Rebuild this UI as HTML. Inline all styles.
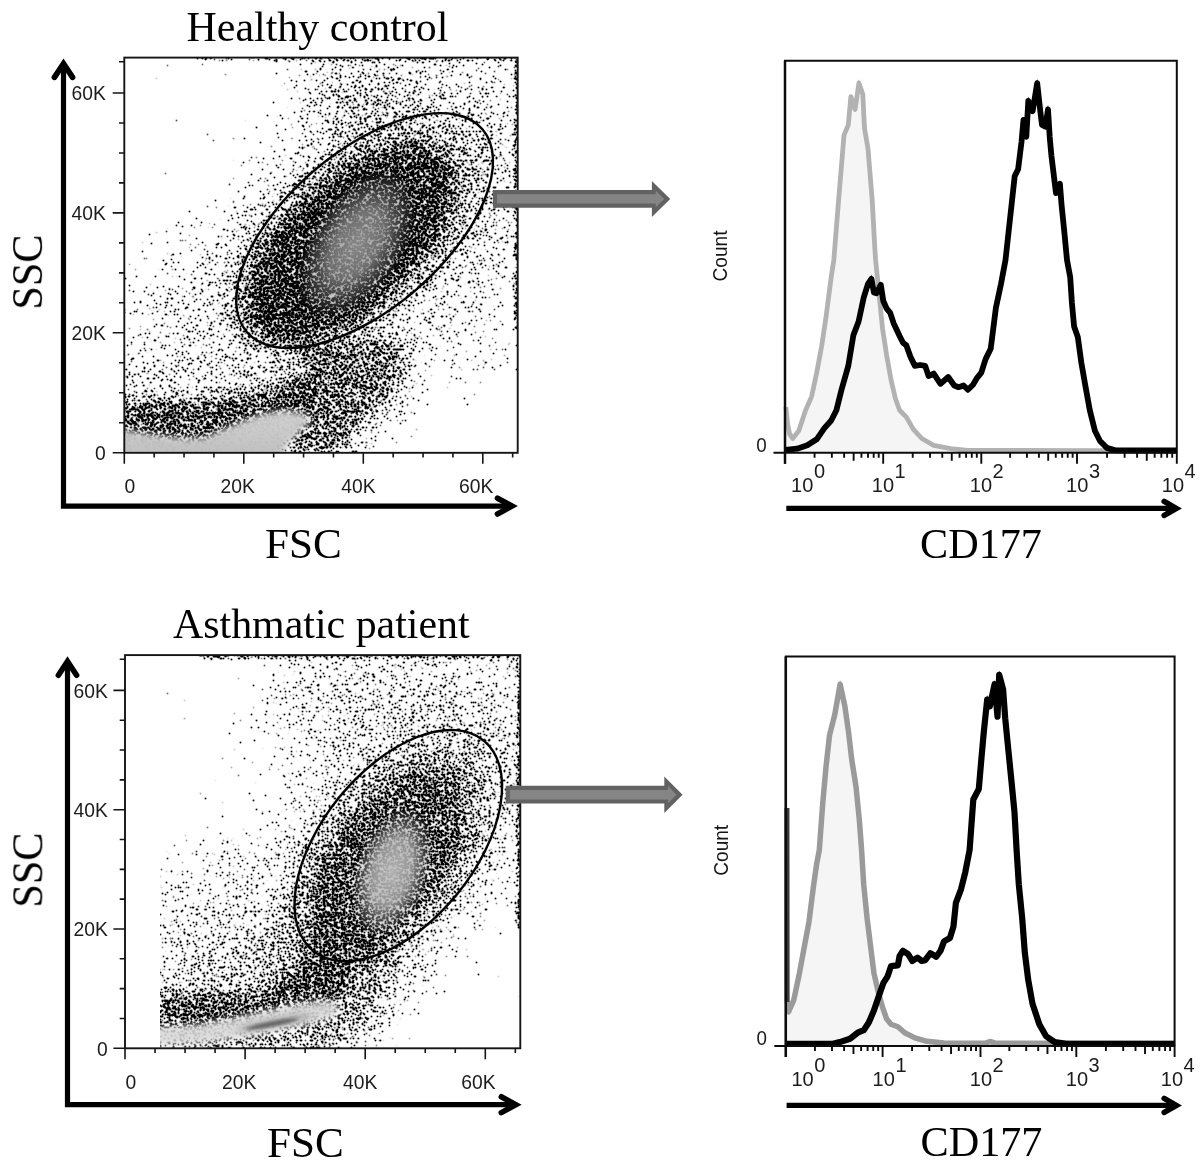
<!DOCTYPE html>
<html lang="en"><head><meta charset="utf-8"><title>CD177 flow cytometry</title>
<style>html,body{margin:0;padding:0;background:#fff}svg{display:block}text{white-space:pre}</style></head>
<body><svg width="1200" height="1171" viewBox="0 0 1200 1171">
<rect width="1200" height="1171" fill="#fff"/>
<defs>
<filter id="b1" x="-20%" y="-20%" width="140%" height="140%"><feGaussianBlur stdDeviation="1"/></filter>
<filter id="b2" x="-20%" y="-20%" width="140%" height="140%"><feGaussianBlur stdDeviation="1.8"/></filter>
<filter id="b3" x="-20%" y="-20%" width="140%" height="140%"><feGaussianBlur stdDeviation="3"/></filter>
<filter id="b6" x="-30%" y="-30%" width="160%" height="160%"><feGaussianBlur stdDeviation="6"/></filter>
<filter id="b10" x="-40%" y="-40%" width="180%" height="180%"><feGaussianBlur stdDeviation="10"/></filter>
<filter id="b18" x="-50%" y="-50%" width="200%" height="200%"><feGaussianBlur stdDeviation="18"/></filter>
<filter id="b30" x="-60%" y="-60%" width="220%" height="220%"><feGaussianBlur stdDeviation="30"/></filter>
</defs>
<defs><filter id="st1" filterUnits="userSpaceOnUse" x="124.3" y="57.6" width="393.4" height="395.2" color-interpolation-filters="sRGB"><feComponentTransfer in="SourceGraphic" result="d"><feFuncR type="table" tableValues="0.000 0.432 0.454 0.468 0.478 0.485 0.492 0.499 0.504 0.507 0.511 0.514 0.520 0.525 0.529 0.532 0.535 0.539 0.544 0.549 0.552 0.555 0.558 0.561 0.564 0.567 0.569 0.572 0.575 0.579 0.583 0.587 0.591 0.594 0.597 0.601 0.605 0.609 0.614 0.620 0.625 0.628 0.632 0.635 0.639 0.642 0.645 0.648 0.653 0.659 0.665 0.669 0.673 0.680 0.689 0.696 0.702 0.707 0.712 0.722 0.735 0.745 0.762 0.784 0.900"/><feFuncG type="table" tableValues="0.000 0.432 0.454 0.468 0.478 0.485 0.492 0.499 0.504 0.507 0.511 0.514 0.520 0.525 0.529 0.532 0.535 0.539 0.544 0.549 0.552 0.555 0.558 0.561 0.564 0.567 0.569 0.572 0.575 0.579 0.583 0.587 0.591 0.594 0.597 0.601 0.605 0.609 0.614 0.620 0.625 0.628 0.632 0.635 0.639 0.642 0.645 0.648 0.653 0.659 0.665 0.669 0.673 0.680 0.689 0.696 0.702 0.707 0.712 0.722 0.735 0.745 0.762 0.784 0.900"/><feFuncB type="table" tableValues="0.000 0.432 0.454 0.468 0.478 0.485 0.492 0.499 0.504 0.507 0.511 0.514 0.520 0.525 0.529 0.532 0.535 0.539 0.544 0.549 0.552 0.555 0.558 0.561 0.564 0.567 0.569 0.572 0.575 0.579 0.583 0.587 0.591 0.594 0.597 0.601 0.605 0.609 0.614 0.620 0.625 0.628 0.632 0.635 0.639 0.642 0.645 0.648 0.653 0.659 0.665 0.669 0.673 0.680 0.689 0.696 0.702 0.707 0.712 0.722 0.735 0.745 0.762 0.784 0.900"/></feComponentTransfer><feTurbulence type="fractalNoise" baseFrequency="0.55" numOctaves="2" seed="7" result="n"/>
<feColorMatrix in="n" type="matrix" values="1 0 0 0 0  1 0 0 0 0  1 0 0 0 0  0 0 0 0 1" result="ng"/>
<feComposite in="d" in2="ng" operator="arithmetic" k1="0" k2="1" k3="1" k4="-0.5" result="s"/>
<feComponentTransfer in="s" result="t"><feFuncR type="linear" slope="30.0" intercept="-14.5"/><feFuncG type="linear" slope="30.0" intercept="-14.5"/><feFuncB type="linear" slope="30.0" intercept="-14.5"/></feComponentTransfer><feColorMatrix in="t" type="matrix" values="-1 0 0 0 1  0 -1 0 0 1  0 0 -1 0 1  0 0 0 0 1" result="ti"/>
<feConvolveMatrix in="ti" order="3" kernelMatrix="0.08 0.36 0.08 0.36 1 0.36 0.08 0.36 0.08" divisor="1" bias="0" edgeMode="none" preserveAlpha="true" result="tc"/>
<feColorMatrix in="tc" type="matrix" values="-1 0 0 0 1  0 -1 0 0 1  0 0 -1 0 1  0 0 0 0 1"/></filter><clipPath id="cp1"><rect x="124.3" y="57.6" width="393.4" height="395.2"/></clipPath><radialGradient id="cg1"><stop offset="0" stop-color="#a2a2a2" stop-opacity=".84"/><stop offset=".45" stop-color="#969696" stop-opacity=".74"/><stop offset=".75" stop-color="#808080" stop-opacity=".4"/><stop offset="1" stop-color="#777" stop-opacity="0"/></radialGradient><linearGradient id="dg1" x1="0" x2="0" y1="0" y2="1"><stop offset="0" stop-color="#d2d2d2"/><stop offset="1" stop-color="#bdbdbd"/></linearGradient></defs>
<g clip-path="url(#cp1)"><g filter="url(#st1)"><rect x="119.3" y="52.6" width="403.4" height="405.2" fill="#fff"/>
<rect x="124.3" y="57.6" width="393.4" height="395.2" fill="#000" fill-opacity="0.004"/>
<g filter="url(#b30)"><ellipse cx="372" cy="222" rx="185" ry="108" transform="rotate(-42 372 222)" fill="#000" fill-opacity="0.075" /><path d="M300 58L518 58L518 250L430 120L330 150Z" fill="#000" fill-opacity="0.05" /><path d="M124 300L230 230L260 330L300 380L124 420Z" fill="#000" fill-opacity="0.09" /><path d="M410 290L500 190L518 320L450 380Z" fill="#000" fill-opacity="0.07" /></g>
<g filter="url(#b18)"><ellipse cx="366" cy="230" rx="165" ry="88" transform="rotate(-41 366 230)" fill="#000" fill-opacity="0.12" /><ellipse cx="360" cy="100" rx="55" ry="45" transform="rotate(0 360 100)" fill="#000" fill-opacity="0.14" /><path d="M124 375L250 365L330 345L420 350L400 410L345 452L124 452Z" fill="#000" fill-opacity="0.12" /></g>
<g filter="url(#b10)"><ellipse cx="352" cy="241" rx="138" ry="75" transform="rotate(-41 352 241)" fill="#000" fill-opacity="0.32" /><path d="M284 340L405 328L416 364L394 402L356 432L340 456L300 456L294 400Z" fill="#000" fill-opacity="0.12" /></g>
<g filter="url(#b6)"><ellipse cx="349" cy="245" rx="126" ry="63" transform="rotate(-42 349 245)" fill="#000" fill-opacity="0.56" /><path d="M118 399L180 403L250 395L300 378L320 374L312 410L290 425L250 428L200 444L118 440Z" fill="#000" fill-opacity="0.58" /><path d="M296 352L396 338L403 362L390 393L356 425L338 456L288 456L292 425L312 410L318 376Z" fill="#000" fill-opacity="0.38" /></g>
<g filter="url(#b1)"><path d="M190 56L270 56L270 60.3L190 60.3Z" fill="#000" fill-opacity="0.25" /><path d="M270 56L520 56L520 60.4L270 60.4Z" fill="#000" fill-opacity="0.4" /><path d="M515 56L520 56L520 330L515 330Z" fill="#000" fill-opacity="0.55" /></g>
</g>
<ellipse cx="357" cy="244" rx="84" ry="47" transform="rotate(-58 357 244)" fill="url(#cg1)"/>
<g filter="url(#b3)" opacity=".97"><path d="M118 428L150 434L185 438L205 437L225 428L260 414L286 410L305 414L312 420L300 432L288 444L280 458L118 458Z" fill="url(#dg1)"/></g>
</g>
<ellipse cx="364.6" cy="230.6" rx="155.4" ry="78.4" transform="rotate(-40.7 364.6 230.6)" fill="none" stroke="#000" stroke-width="2.4"/>
<defs><filter id="st2" filterUnits="userSpaceOnUse" x="125" y="655.1" width="395.3" height="393.2" color-interpolation-filters="sRGB"><feComponentTransfer in="SourceGraphic" result="d"><feFuncR type="table" tableValues="0.000 0.432 0.454 0.468 0.478 0.485 0.492 0.499 0.504 0.507 0.511 0.514 0.520 0.525 0.529 0.532 0.535 0.539 0.544 0.549 0.552 0.555 0.558 0.561 0.564 0.567 0.569 0.572 0.575 0.579 0.583 0.587 0.591 0.594 0.597 0.601 0.605 0.609 0.614 0.620 0.625 0.628 0.632 0.635 0.639 0.642 0.645 0.648 0.653 0.659 0.665 0.669 0.673 0.680 0.689 0.696 0.702 0.707 0.712 0.722 0.735 0.745 0.762 0.784 0.900"/><feFuncG type="table" tableValues="0.000 0.432 0.454 0.468 0.478 0.485 0.492 0.499 0.504 0.507 0.511 0.514 0.520 0.525 0.529 0.532 0.535 0.539 0.544 0.549 0.552 0.555 0.558 0.561 0.564 0.567 0.569 0.572 0.575 0.579 0.583 0.587 0.591 0.594 0.597 0.601 0.605 0.609 0.614 0.620 0.625 0.628 0.632 0.635 0.639 0.642 0.645 0.648 0.653 0.659 0.665 0.669 0.673 0.680 0.689 0.696 0.702 0.707 0.712 0.722 0.735 0.745 0.762 0.784 0.900"/><feFuncB type="table" tableValues="0.000 0.432 0.454 0.468 0.478 0.485 0.492 0.499 0.504 0.507 0.511 0.514 0.520 0.525 0.529 0.532 0.535 0.539 0.544 0.549 0.552 0.555 0.558 0.561 0.564 0.567 0.569 0.572 0.575 0.579 0.583 0.587 0.591 0.594 0.597 0.601 0.605 0.609 0.614 0.620 0.625 0.628 0.632 0.635 0.639 0.642 0.645 0.648 0.653 0.659 0.665 0.669 0.673 0.680 0.689 0.696 0.702 0.707 0.712 0.722 0.735 0.745 0.762 0.784 0.900"/></feComponentTransfer><feTurbulence type="fractalNoise" baseFrequency="0.55" numOctaves="2" seed="23" result="n"/>
<feColorMatrix in="n" type="matrix" values="1 0 0 0 0  1 0 0 0 0  1 0 0 0 0  0 0 0 0 1" result="ng"/>
<feComposite in="d" in2="ng" operator="arithmetic" k1="0" k2="1" k3="1" k4="-0.5" result="s"/>
<feComponentTransfer in="s" result="t"><feFuncR type="linear" slope="30.0" intercept="-14.5"/><feFuncG type="linear" slope="30.0" intercept="-14.5"/><feFuncB type="linear" slope="30.0" intercept="-14.5"/></feComponentTransfer><feColorMatrix in="t" type="matrix" values="-1 0 0 0 1  0 -1 0 0 1  0 0 -1 0 1  0 0 0 0 1" result="ti"/>
<feConvolveMatrix in="ti" order="3" kernelMatrix="0.08 0.36 0.08 0.36 1 0.36 0.08 0.36 0.08" divisor="1" bias="0" edgeMode="none" preserveAlpha="true" result="tc"/>
<feColorMatrix in="tc" type="matrix" values="-1 0 0 0 1  0 -1 0 0 1  0 0 -1 0 1  0 0 0 0 1"/></filter><clipPath id="cp2"><path d="M160 661.1H520.3V1048.3H160ZM125 655.1H520.3V661.1H125Z"/></clipPath><radialGradient id="cg2"><stop offset="0" stop-color="#c0c0c0" stop-opacity=".92"/><stop offset=".5" stop-color="#b4b4b4" stop-opacity=".82"/><stop offset=".8" stop-color="#a0a0a0" stop-opacity=".35"/><stop offset="1" stop-color="#999" stop-opacity="0"/></radialGradient></defs>
<g clip-path="url(#cp2)"><g filter="url(#st2)"><rect x="120" y="650.1" width="405.3" height="403.2" fill="#fff"/>
<rect x="125" y="655.1" width="395.3" height="393.2" fill="#000" fill-opacity="0.004"/>
<g filter="url(#b30)"><ellipse cx="400" cy="845" rx="165" ry="100" transform="rotate(-51 400 845)" fill="#000" fill-opacity="0.06" /><path d="M150 885L300 850L310 1000L150 1000Z" fill="#000" fill-opacity="0.085" /><path d="M280 650L525 650L525 760L280 780Z" fill="#000" fill-opacity="0.07" /></g>
<g filter="url(#b18)"><ellipse cx="398" cy="846" rx="146" ry="84" transform="rotate(-51 398 846)" fill="#000" fill-opacity="0.1" /><ellipse cx="360" cy="700" rx="60" ry="45" transform="rotate(0 360 700)" fill="#000" fill-opacity="0.04" /><path d="M230 950L330 900L420 960L370 1040L150 1040L150 985Z" fill="#000" fill-opacity="0.13" /></g>
<g filter="url(#b10)"><ellipse cx="390" cy="858" rx="122" ry="68" transform="rotate(-51 390 858)" fill="#000" fill-opacity="0.28" /><path d="M300 935L400 950L378 1000L348 1040L300 1030L290 980Z" fill="#000" fill-opacity="0.24" /></g>
<g filter="url(#b6)"><ellipse cx="386" cy="864" rx="102" ry="55" transform="rotate(-52 386 864)" fill="#000" fill-opacity="0.35" /><path d="M150 995L260 993L300 965L335 955L350 975L335 1000L300 1003L250 1020L200 1030L150 1028Z" fill="#000" fill-opacity="0.5" /><path d="M150 1038L340 1030L345 1040L300 1049L150 1050Z" fill="#000" fill-opacity="0.25" /></g>
<g filter="url(#b1)"><path d="M200 653L523 653L523 658.3L200 658.3Z" fill="#000" fill-opacity="0.4" /><path d="M517.3 653L523 653L523 930L517.3 930Z" fill="#000" fill-opacity="0.55" /></g>
</g>
<ellipse cx="392" cy="872" rx="68" ry="38" transform="rotate(-72 392 872)" fill="url(#cg2)"/>
<g filter="url(#b3)" opacity=".9"><path d="M150 1028L200 1024L250 1014L300 1003L330 1000L340 1006L335 1017L300 1027L250 1037L200 1044L150 1046Z" fill="#d8d8d8"/></g>
<g filter="url(#b3)"><ellipse cx="274" cy="1023" rx="40" ry="4.5" transform="rotate(-11 272 1023)" fill="#a2a2a2" opacity=".8"/></g>
<ellipse cx="272" cy="1024" rx="27" ry="2.6" transform="rotate(-11 272 1023.5)" fill="#555" filter="url(#b2)" opacity=".85"/>
</g>
<ellipse cx="398.3" cy="845.6" rx="135.4" ry="76.3" transform="rotate(-51 398.3 845.6)" fill="none" stroke="#000" stroke-width="2.4"/>
<rect x="124.3" y="57.6" width="393.4" height="395.2" fill="none" stroke="#151515" stroke-width="1.9"/>
<path d="M112.7 452.7H124.3M119 422.72H124.3M119 392.75H124.3M119 362.77H124.3M112.7 332.8H124.3M119 302.82H124.3M119 272.85H124.3M119 242.87H124.3M112.7 212.9H124.3M119 182.92H124.3M119 152.95H124.3M119 122.97H124.3M112.7 93H124.3M119 61.8H124.3M124.3 452.8V463.8M154.18 452.8V457.4M184.05 452.8V457.4M213.93 452.8V457.4M243.8 452.8V463.8M273.68 452.8V457.4M303.55 452.8V457.4M333.43 452.8V457.4M363.3 452.8V463.8M393.18 452.8V457.4M423.05 452.8V457.4M452.93 452.8V457.4M482.8 452.8V463.8M512.67 452.8V457.4" stroke="#151515" stroke-width="1.6" fill="none"/>
<text transform="translate(105.8 459.7) scale(0.965 1)" text-anchor="end" font-family="Liberation Sans, sans-serif" font-size="20" fill="#1c1c1c">0</text>
<text transform="translate(105.8 339.8) scale(0.965 1)" text-anchor="end" font-family="Liberation Sans, sans-serif" font-size="20" fill="#1c1c1c">20K</text>
<text transform="translate(105.8 219.9) scale(0.965 1)" text-anchor="end" font-family="Liberation Sans, sans-serif" font-size="20" fill="#1c1c1c">40K</text>
<text transform="translate(105.8 100) scale(0.965 1)" text-anchor="end" font-family="Liberation Sans, sans-serif" font-size="20" fill="#1c1c1c">60K</text>
<text transform="translate(124.6 492.7) scale(0.965 1)" text-anchor="start" font-family="Liberation Sans, sans-serif" font-size="20" fill="#1c1c1c">0</text>
<text transform="translate(237.6 492.7) scale(0.965 1)" text-anchor="middle" font-family="Liberation Sans, sans-serif" font-size="20" fill="#1c1c1c">20K</text>
<text transform="translate(358.5 492.7) scale(0.965 1)" text-anchor="middle" font-family="Liberation Sans, sans-serif" font-size="20" fill="#1c1c1c">40K</text>
<text transform="translate(476.1 492.7) scale(0.965 1)" text-anchor="middle" font-family="Liberation Sans, sans-serif" font-size="20" fill="#1c1c1c">60K</text>
<path d="M63.5 64V506.1H511.8" fill="none" stroke="#000" stroke-width="5.2" stroke-linejoin="miter"/>
<path d="M54.4 77.4L63.5 63.6L72.6 77.4" fill="none" stroke="#000" stroke-width="5.6" stroke-linecap="round" stroke-linejoin="miter"/>
<path d="M497.5 498.2L512 506.1L497.5 514" fill="none" stroke="#000" stroke-width="5.6" stroke-linecap="round" stroke-linejoin="miter"/>
<text transform="translate(317.5 40.7) scale(1.01 1)" text-anchor="middle" font-family="Liberation Serif, serif" font-size="41.5" fill="#000">Healthy control</text>
<text transform="translate(42 272) rotate(-90) scale(1.03 1.1)" text-anchor="middle" font-family="Liberation Serif, serif" font-size="41" fill="#000">SSC</text>
<text transform="translate(303.3 557.5) scale(1.04 1)" text-anchor="middle" font-family="Liberation Serif, serif" font-size="41.5" fill="#000">FSC</text>
<rect x="125" y="655.1" width="395.3" height="393.2" fill="none" stroke="#151515" stroke-width="1.9"/>
<path d="M113.4 1048.3H125M119.7 1018.47H125M119.7 988.65H125M119.7 958.82H125M113.4 929H125M119.7 899.17H125M119.7 869.35H125M119.7 839.52H125M113.4 809.7H125M119.7 779.88H125M119.7 750.05H125M119.7 720.22H125M113.4 690.4H125M119.7 659.3H125M125 1048.3V1059.3M155.03 1048.3V1052.9M185.05 1048.3V1052.9M215.07 1048.3V1052.9M245.1 1048.3V1059.3M275.12 1048.3V1052.9M305.15 1048.3V1052.9M335.17 1048.3V1052.9M365.2 1048.3V1059.3M395.22 1048.3V1052.9M425.25 1048.3V1052.9M455.27 1048.3V1052.9M485.3 1048.3V1059.3M515.33 1048.3V1052.9" stroke="#151515" stroke-width="1.6" fill="none"/>
<text transform="translate(107.8 1055.7) scale(0.965 1)" text-anchor="end" font-family="Liberation Sans, sans-serif" font-size="20" fill="#1c1c1c">0</text>
<text transform="translate(107.8 936.4) scale(0.965 1)" text-anchor="end" font-family="Liberation Sans, sans-serif" font-size="20" fill="#1c1c1c">20K</text>
<text transform="translate(107.8 817.1) scale(0.965 1)" text-anchor="end" font-family="Liberation Sans, sans-serif" font-size="20" fill="#1c1c1c">40K</text>
<text transform="translate(107.8 697.8) scale(0.965 1)" text-anchor="end" font-family="Liberation Sans, sans-serif" font-size="20" fill="#1c1c1c">60K</text>
<text transform="translate(125.4 1088.7) scale(0.965 1)" text-anchor="start" font-family="Liberation Sans, sans-serif" font-size="20" fill="#1c1c1c">0</text>
<text transform="translate(239.2 1088.7) scale(0.965 1)" text-anchor="middle" font-family="Liberation Sans, sans-serif" font-size="20" fill="#1c1c1c">20K</text>
<text transform="translate(360.2 1088.7) scale(0.965 1)" text-anchor="middle" font-family="Liberation Sans, sans-serif" font-size="20" fill="#1c1c1c">40K</text>
<text transform="translate(478.4 1088.7) scale(0.965 1)" text-anchor="middle" font-family="Liberation Sans, sans-serif" font-size="20" fill="#1c1c1c">60K</text>
<path d="M67.5 661.8V1104.7H515.6" fill="none" stroke="#000" stroke-width="5.2" stroke-linejoin="miter"/>
<path d="M58.4 675.2L67.5 661.4L76.6 675.2" fill="none" stroke="#000" stroke-width="5.6" stroke-linecap="round" stroke-linejoin="miter"/>
<path d="M501.3 1096.8L515.8 1104.7L501.3 1112.6" fill="none" stroke="#000" stroke-width="5.6" stroke-linecap="round" stroke-linejoin="miter"/>
<text transform="translate(321.3 637.8) scale(1.01 1)" text-anchor="middle" font-family="Liberation Serif, serif" font-size="41.5" fill="#000">Asthmatic patient</text>
<text transform="translate(42.2 870) rotate(-90) scale(1.03 1.1)" text-anchor="middle" font-family="Liberation Serif, serif" font-size="41" fill="#000">SSC</text>
<text transform="translate(305.5 1156.7) scale(1.04 1)" text-anchor="middle" font-family="Liberation Serif, serif" font-size="41.5" fill="#000">FSC</text>
<path d="M785 452.7L785.9 407L787.6 424L789.6 434L792.8 438.5L798.8 430.8L805.6 410.3L811.6 396.6L816.7 372.7L821.8 345.4L826.1 316.4L831.2 277.1L833.8 260L838.9 196.6L842.3 155.6L844 135.2L848.3 124.9L850.9 96.7L855.1 109.5L858.9 83L862.8 94.2L864.5 128.3L868 148.8L872.2 200L874.8 247.9L875.6 260L879.1 294.2L882.5 328.3L886.7 355.6L891 379.6L895.3 398.3L899.6 410.3L906.4 417.1L913.2 429.1L921.8 438.5L933.7 445.3L950.8 448.7L967.9 450.4L1176 450.8L1176.8 452.7Z" fill="#f5f5f5"/>
<path d="M785.9 407L787.6 424L789.6 434L792.8 438.5L798.8 430.8L805.6 410.3L811.6 396.6L816.7 372.7L821.8 345.4L826.1 316.4L831.2 277.1L833.8 260L838.9 196.6L842.3 155.6L844 135.2L848.3 124.9L850.9 96.7L855.1 109.5L858.9 83L862.8 94.2L864.5 128.3L868 148.8L872.2 200L874.8 247.9L875.6 260L879.1 294.2L882.5 328.3L886.7 355.6L891 379.6L895.3 398.3L899.6 410.3L906.4 417.1L913.2 429.1L921.8 438.5L933.7 445.3L950.8 448.7L967.9 450.4L1176 450.8" fill="none" stroke="#b2b2b2" stroke-width="4.8" stroke-linejoin="round"/>
<path d="M785.5 449.8L797.1 448.7L807.3 445.3L816.7 439.3L824.4 428.2L831.2 420.5L836.4 410.3L841.5 389.8L848.3 365.9L853.4 335.1L858.6 321.5L863.7 297.6L868 283.9L871.4 278.8L873.9 292.4L876.5 293.3L880.8 284.8L883.3 301L886.7 308.7L890.2 312.9L893.6 323.2L899.6 336L903 342.8L906.4 345.4L910.7 357.4L914.9 365.9L920.1 365L925.2 365.9L928.6 376.1L933.7 373.6L940.5 383.8L948.2 377L954.2 385.5L958.5 387.2L963.6 385.5L967.9 389.8L973 384.7L977.1 377.8L981.3 372.7L985.6 359.1L990.7 348.8L993.3 328.3L995.9 307.8L1001 283.9L1005.5 260L1008.7 230.8L1012.1 200L1014.7 176.1L1018.1 169.3L1021.5 142L1023.5 119.8L1026.3 136.9L1028.3 101L1032.6 111.2L1037.2 83.1L1040.3 111.2L1042 124.9L1045.4 126.6L1048 109.5L1049.7 136.9L1051.4 155.6L1053.9 176.1L1056 193.2L1059.9 183.8L1061.6 205.2L1064.2 230.8L1067 260L1070.2 277.1L1071.9 302.7L1074.1 326.6L1077.8 336.9L1081.3 362.5L1085.5 386.4L1089.8 410.3L1094.9 430.8L1100 441L1106.9 447.9L1115.4 450.4L1176 450.5" fill="none" stroke="#000" stroke-width="5.8" stroke-linejoin="round" stroke-linecap="butt"/>
<path d="M1034.6 89.5L1037.2 79L1039.8 89.5Z" fill="#000"/>
<path d="M1026.1 106L1028.3 96.5L1030.5 106Z" fill="#000"/>
<path d="M1045.8 114.5L1048 105L1050.2 114.5Z" fill="#000"/>
<path d="M869 284L871.4 274.5L873.8 284Z" fill="#000"/>
<path d="M856.7 88.5L858.9 79L861.1 88.5Z" fill="#b2b2b2"/>
<path d="M785.8 1046L786.8 808L787.3 1000L788.5 1012L793.7 1000.3L798.8 976.4L803.9 949.1L809 921.7L813.3 887.6L816.7 863.7L819.3 850L822.7 803.7L826.1 766.1L829.5 735.4L834.7 714.9L840.1 684.2L844.9 706.4L848.3 730.3L851.7 759.3L856 786.6L859.4 820.8L861.6 850L863.7 884.2L867.1 918.3L870.5 945.6L873.9 973L878.2 991.8L882.5 1007.1L886.7 1019.1L891 1024.2L897.9 1026.8L904.7 1032.8L914.9 1037.9L926.9 1041.3L944 1043L985 1043.3L990 1041.5L996 1043.3L1174 1043.6L1174.6 1046Z" fill="#f5f5f5"/>
<path d="M786.8 808L787.3 1000L788.5 1012L793.7 1000.3L798.8 976.4L803.9 949.1L809 921.7L813.3 887.6L816.7 863.7L819.3 850L822.7 803.7L826.1 766.1L829.5 735.4L834.7 714.9L840.1 684.2L844.9 706.4L848.3 730.3L851.7 759.3L856 786.6L859.4 820.8L861.6 850L863.7 884.2L867.1 918.3L870.5 945.6L873.9 973L878.2 991.8L882.5 1007.1L886.7 1019.1L891 1024.2L897.9 1026.8L904.7 1032.8L914.9 1037.9L926.9 1041.3L944 1043L985 1043.3L990 1041.5L996 1043.3L1174 1043.6" fill="none" stroke="#9a9a9a" stroke-width="5.5" stroke-linejoin="round"/>
<path d="M786 1043.8L833 1043.8L839.8 1042.1L850 1038.7L857.7 1032.7L863.7 1030.2L868.8 1022.5L873.9 1010.5L879.1 995.2L883.3 983.2L887.6 976.4L891 966.1L897.9 965.3L899.6 955.9L903 950.8L908.1 954.2L912.4 961L917.5 957.6L921.8 961L925.2 960.2L930.3 953.3L936.3 956.7L940.5 950.8L944 941.4L949.9 938L953.4 926.9L955.9 902.9L961 889.3L965.3 872.2L969.6 850L973.3 799.5L978.8 789L981.2 761L983.8 732L987.2 699.5L989.8 706.4L994.6 684.2L997.5 716.6L999.2 674.8L1003.1 689.3L1005.2 718.3L1008.6 752.5L1012 786.6L1014.5 812.3L1016.6 850L1018.8 884.2L1022.2 918.3L1024.8 952.5L1028.2 979.8L1032.5 1003.7L1039.3 1024.2L1046.1 1036.2L1054.7 1042.1L1066.6 1043.8L1174 1043.8" fill="none" stroke="#000" stroke-width="6.2" stroke-linejoin="round" stroke-linecap="butt"/>
<path d="M787.9 808V1002" stroke="#3a3a3a" stroke-width="2.6" fill="none"/>
<path d="M996.6 681L999.2 670.5L1001.8 681Z" fill="#000"/>
<path d="M992.4 689.5L994.6 680L996.8 689.5Z" fill="#000"/>
<path d="M985 704.5L987.2 695L989.4 704.5Z" fill="#000"/>
<path d="M837.8 690.5L840.1 680L842.4 690.5Z" fill="#9a9a9a"/>
<path d="M785 452.7V60.8H1176.8V452.7" fill="none" stroke="#0c0c0c" stroke-width="2"/>
<path d="M785 60.8V463.7" fill="none" stroke="#0c0c0c" stroke-width="2.5"/>
<path d="M773.5 452.7H1177.6M785 452.7V463.7M814.56 452.7V457.7M831.85 452.7V457.7M844.12 452.7V457.7M853.64 452.7V460.7M861.41 452.7V457.7M867.99 452.7V457.7M873.68 452.7V457.7M878.71 452.7V457.7M883.2 452.7V463.7M912.73 452.7V457.7M930.01 452.7V457.7M942.26 452.7V457.7M951.77 452.7V460.7M959.54 452.7V457.7M966.1 452.7V457.7M971.79 452.7V457.7M976.81 452.7V457.7M981.3 452.7V463.7M1010.11 452.7V457.7M1026.96 452.7V457.7M1038.92 452.7V457.7M1048.19 452.7V460.7M1055.77 452.7V457.7M1062.18 452.7V457.7M1067.73 452.7V457.7M1072.62 452.7V457.7M1077 452.7V463.7M1107.04 452.7V457.7M1124.62 452.7V457.7M1137.09 452.7V457.7M1146.76 452.7V460.7M1154.66 452.7V457.7M1161.34 452.7V457.7M1167.13 452.7V457.7M1172.23 452.7V457.7M1176.8 452.7V463.7" stroke="#0c0c0c" stroke-width="1.9" fill="none"/>
<text transform="translate(766.6 452.1) scale(0.94 1)" text-anchor="end" font-family="Liberation Sans, sans-serif" font-size="20" fill="#1c1c1c">0</text>
<text x="791.1" y="492" font-family="Liberation Sans, sans-serif" font-size="20" fill="#1c1c1c">10</text>
<text x="813.9" y="478" font-family="Liberation Sans, sans-serif" font-size="20" fill="#1c1c1c">0</text>
<text x="871.8" y="492" font-family="Liberation Sans, sans-serif" font-size="20" fill="#1c1c1c">10</text>
<text x="894.6" y="478" font-family="Liberation Sans, sans-serif" font-size="20" fill="#1c1c1c">1</text>
<text x="969.8" y="492" font-family="Liberation Sans, sans-serif" font-size="20" fill="#1c1c1c">10</text>
<text x="992.6" y="478" font-family="Liberation Sans, sans-serif" font-size="20" fill="#1c1c1c">2</text>
<text x="1066.1" y="492" font-family="Liberation Sans, sans-serif" font-size="20" fill="#1c1c1c">10</text>
<text x="1088.9" y="478" font-family="Liberation Sans, sans-serif" font-size="20" fill="#1c1c1c">3</text>
<text x="1161.8" y="492" font-family="Liberation Sans, sans-serif" font-size="20" fill="#1c1c1c">10</text>
<text x="1184.6" y="478" font-family="Liberation Sans, sans-serif" font-size="20" fill="#1c1c1c">4</text>
<text transform="translate(726.5 256) rotate(-90) scale(0.955 1)" text-anchor="middle" font-family="Liberation Sans, sans-serif" font-size="20" fill="#151515">Count</text>
<path d="M786.3 508.4H1176" fill="none" stroke="#000" stroke-width="5.4"/>
<path d="M1164.2 501.4L1176.3 508.4L1164.2 515.4" fill="none" stroke="#000" stroke-width="5.6" stroke-linecap="round" stroke-linejoin="miter"/>
<text transform="translate(981 558.3) scale(1.017 1)" text-anchor="middle" font-family="Liberation Serif, serif" font-size="41.5" fill="#000">CD177</text>
<path d="M785.8 1046V656.5H1174.6V1046" fill="none" stroke="#0c0c0c" stroke-width="2"/>
<path d="M785.8 656.5V1057" fill="none" stroke="#0c0c0c" stroke-width="2.5"/>
<path d="M774.3 1046H1175.4M785.8 1046V1057M814.94 1046V1051M831.99 1046V1051M844.08 1046V1051M853.46 1046V1054M861.13 1046V1051M867.61 1046V1051M873.22 1046V1051M878.17 1046V1051M882.6 1046V1057M912.07 1046V1051M929.31 1046V1051M941.54 1046V1051M951.03 1046V1054M958.78 1046V1051M965.34 1046V1051M971.01 1046V1051M976.02 1046V1051M980.5 1046V1057M1009.34 1046V1051M1026.21 1046V1051M1038.18 1046V1051M1047.46 1046V1054M1055.05 1046V1051M1061.46 1046V1051M1067.02 1046V1051M1071.92 1046V1051M1076.3 1046V1057M1105.89 1046V1051M1123.2 1046V1051M1135.48 1046V1051M1145.01 1046V1054M1152.79 1046V1051M1159.37 1046V1051M1165.07 1046V1051M1170.1 1046V1051M1174.6 1046V1057" stroke="#0c0c0c" stroke-width="1.9" fill="none"/>
<text transform="translate(767 1045.4) scale(0.94 1)" text-anchor="end" font-family="Liberation Sans, sans-serif" font-size="20" fill="#1c1c1c">0</text>
<text x="791.5" y="1085.7" font-family="Liberation Sans, sans-serif" font-size="20" fill="#1c1c1c">10</text>
<text x="814.3" y="1071.7" font-family="Liberation Sans, sans-serif" font-size="20" fill="#1c1c1c">0</text>
<text x="872.6" y="1085.7" font-family="Liberation Sans, sans-serif" font-size="20" fill="#1c1c1c">10</text>
<text x="895.4" y="1071.7" font-family="Liberation Sans, sans-serif" font-size="20" fill="#1c1c1c">1</text>
<text x="969.8" y="1085.7" font-family="Liberation Sans, sans-serif" font-size="20" fill="#1c1c1c">10</text>
<text x="992.6" y="1071.7" font-family="Liberation Sans, sans-serif" font-size="20" fill="#1c1c1c">2</text>
<text x="1065.8" y="1085.7" font-family="Liberation Sans, sans-serif" font-size="20" fill="#1c1c1c">10</text>
<text x="1088.6" y="1071.7" font-family="Liberation Sans, sans-serif" font-size="20" fill="#1c1c1c">3</text>
<text x="1160.8" y="1085.7" font-family="Liberation Sans, sans-serif" font-size="20" fill="#1c1c1c">10</text>
<text x="1183.6" y="1071.7" font-family="Liberation Sans, sans-serif" font-size="20" fill="#1c1c1c">4</text>
<text transform="translate(727.6 850.3) rotate(-90) scale(0.955 1)" text-anchor="middle" font-family="Liberation Sans, sans-serif" font-size="20" fill="#151515">Count</text>
<path d="M786.6 1105.4H1176" fill="none" stroke="#000" stroke-width="5.4"/>
<path d="M1164.2 1098.4L1176.3 1105.4L1164.2 1112.4" fill="none" stroke="#000" stroke-width="5.6" stroke-linecap="round" stroke-linejoin="miter"/>
<text transform="translate(981.5 1156) scale(1.017 1)" text-anchor="middle" font-family="Liberation Serif, serif" font-size="41.5" fill="#000">CD177</text>
<path d="M492.9 190H651.9V180.9L670.2 198.9L651.9 216.9V207.8H492.9Z" fill="#626262"/>
<path d="M497.1 194.2H655.68V190.56L664.11 198.9L655.68 207.24V203.6H497.1Z" fill="#858585"/>
<path d="M505.7 785.8H664.3V776.4L682.6 794.7L664.3 813V803.6H505.7Z" fill="#626262"/>
<path d="M509.9 790H668.08V786.06L676.51 794.7L668.08 803.34V799.4H509.9Z" fill="#858585"/>
</svg></body></html>
